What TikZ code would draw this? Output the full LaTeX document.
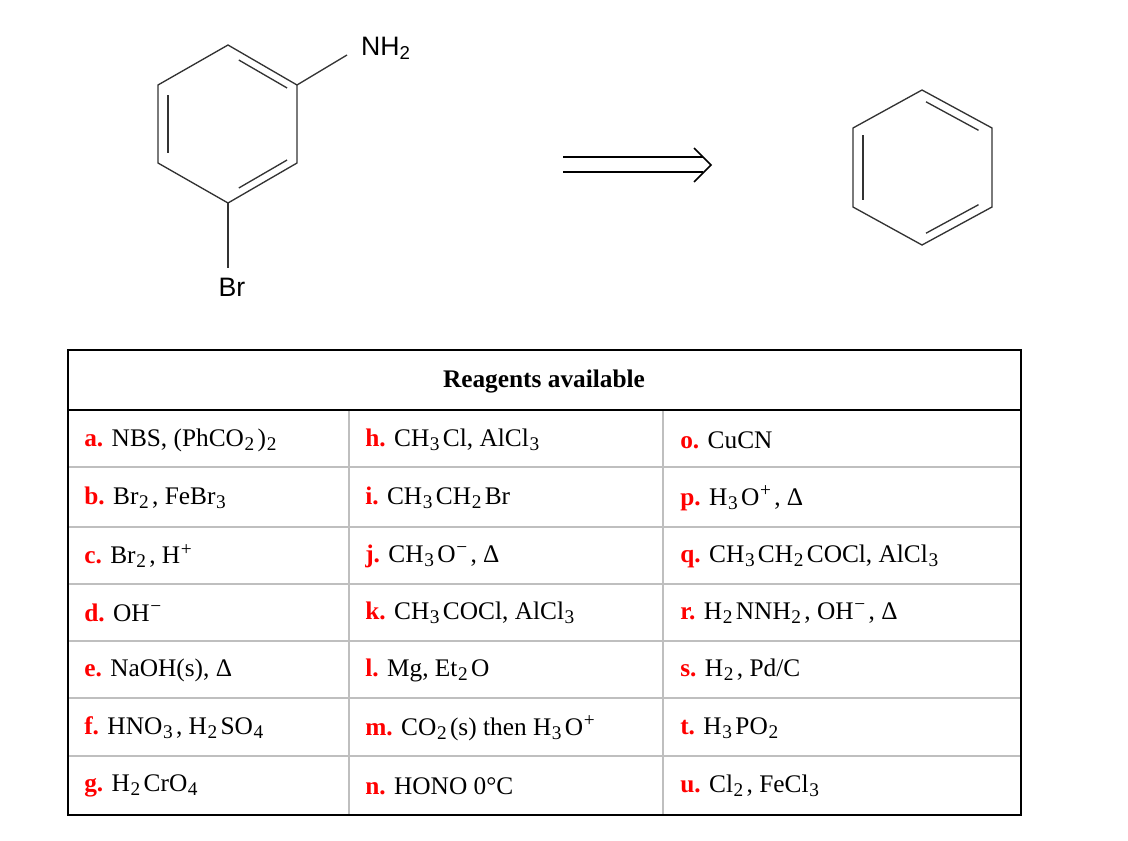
\documentclass[tikz,border=0pt]{standalone}
\usetikzlibrary{calc}
\usepackage{fontspec}
\setmainfont{Liberation Serif}
\newfontfamily\molfont{Liberation Sans}
\newcommand{\sbb}[1]{\kern0.5pt\raisebox{-0.35ex}{\fontsize{14.5}{15}\selectfont #1}\kern2.5pt}
\newcommand{\spp}[1]{\kern0.5pt\raisebox{0.75ex}{\fontsize{14.5}{15}\selectfont #1}\kern2.5pt}
\newcommand{\lb}[1]{\textcolor{red}{\bfseries #1}}
\begin{document}
\begin{tikzpicture}[x=0.75pt,y=-0.75pt,
  bond/.style={line width=1pt,black!80},
  cell/.style={anchor=west,inner sep=0pt,font=\fontsize{19}{21}\selectfont},
  grid/.style={line width=0.8pt,black!25}]
\useasboundingbox (0,0) rectangle (1128,840);
% left ring
\coordinate (a1) at (228,45); \coordinate (a2) at (297,85); \coordinate (a3) at (297,163);
\coordinate (a4) at (228,203); \coordinate (a5) at (158,163); \coordinate (a6) at (158,85);
\draw[bond] (a1)--(a2)--(a3)--(a4)--(a5)--(a6)--cycle;
\draw[bond] ($(a1)!0.2!(a2)+(-3,7)$) -- ($(a1)!0.9!(a2)+(-3,7)$);
\draw[bond] (168,95) -- (168,153);
\draw[bond] ($(a3)!0.1!(a4)+(-3,-7)$) -- ($(a3)!0.8!(a4)+(-3,-7)$);
\node[font=\molfont\fontsize{20}{22}\selectfont,inner sep=1pt] (nh) at (386,48) {NH\textsubscript{2}};
\draw[bond] (a2) -- (347,55);
\node[font=\molfont\fontsize{20}{22}\selectfont,inner sep=1pt] (br) at (232,287) {Br};
\draw[bond] (a4) -- (228,268);
% arrow
\coordinate (t1) at (563,157); \coordinate (t2) at (563,172);
\draw[line width=1.3pt] (t1) -- (703,157) (t2) -- (703,172);
\draw[line width=1.3pt] (694,148) -- (711,165) -- (694,182);
% right ring
\coordinate (b1) at (922,90); \coordinate (b2) at (992,128); \coordinate (b3) at (992,207);
\coordinate (b4) at (922,245); \coordinate (b5) at (853,207); \coordinate (b6) at (853,128);
\draw[bond] (b1)--(b2)--(b3)--(b4)--(b5)--(b6)--cycle;
\draw[bond] ($(b1)!0.1!(b2)+(-3,8)$) -- ($(b1)!0.85!(b2)+(-3,8)$);
\draw[bond] (863,135) -- (863,200);
\draw[bond] ($(b3)!0.15!(b4)+(-3,-8)$) -- ($(b3)!0.9!(b4)+(-3,-8)$);
% table
\foreach \y in {467,527,584,641,698,756} \draw[grid] (68,\y) -- (1021,\y);
\draw[grid] (349,410) -- (349,815); \draw[grid] (663,410) -- (663,815);
\draw[line width=1.5pt] (68,410) -- (1021,410);
\draw[line width=2.2pt] (68,350) rectangle (1021,815);
\node[font=\bfseries\fontsize{19}{21}\selectfont] (hd) at (544,381) {Reagents available};
\node[cell] (ca) at (84,440) {\lb{a.} NBS, (PhCO\sbb{2})\sbb{2}};
\node[cell] (cb) at (84,498) {\lb{b.} Br\sbb{2}, FeBr\sbb{3}};
\node[cell] (cc) at (84,556) {\lb{c.} Br\sbb{2}, H\spp{+}};
\node[cell] (cd) at (84,613) {\lb{d.} OH\spp{−}};
\node[cell] (ce) at (84,670) {\lb{e.} NaOH(s), Δ};
\node[cell] (cf) at (84,728) {\lb{f.} HNO\sbb{3}, H\sbb{2}SO\sbb{4}};
\node[cell] (cg) at (84,786) {\lb{g.} H\sbb{2}CrO\sbb{4}};
\node[cell] (ch) at (365,440) {\lb{h.} CH\sbb{3}Cl, AlCl\sbb{3}};
\node[cell] (ci) at (365,498) {\lb{i.} CH\sbb{3}CH\sbb{2}Br};
\node[cell] (cj) at (365,556) {\lb{j.} CH\sbb{3}O\spp{−}, Δ};
\node[cell] (ck) at (365,613) {\lb{k.} CH\sbb{3}COCl, AlCl\sbb{3}};
\node[cell] (cl) at (365,670) {\lb{l.} Mg, Et\sbb{2}O};
\node[cell] (cm) at (365,728) {\lb{m.} CO\sbb{2}(s) then H\sbb{3}O\spp{+}};
\node[cell] (cn) at (365,786) {\lb{n.} HONO 0°C};
\node[cell] (co) at (680,440) {\lb{o.} CuCN};
\node[cell] (cp) at (680,498) {\lb{p.} H\sbb{3}O\spp{+}, Δ};
\node[cell] (cq) at (680,556) {\lb{q.} CH\sbb{3}CH\sbb{2}COCl, AlCl\sbb{3}};
\node[cell] (cr) at (680,613) {\lb{r.} H\sbb{2}NNH\sbb{2}, OH\spp{−}, Δ};
\node[cell] (cs) at (680,670) {\lb{s.} H\sbb{2}, Pd/C};
\node[cell] (ct) at (680,728) {\lb{t.} H\sbb{3}PO\sbb{2}};
\node[cell] (cu) at (680,786) {\lb{u.} Cl\sbb{2}, FeCl\sbb{3}};
\end{tikzpicture}
\end{document}
